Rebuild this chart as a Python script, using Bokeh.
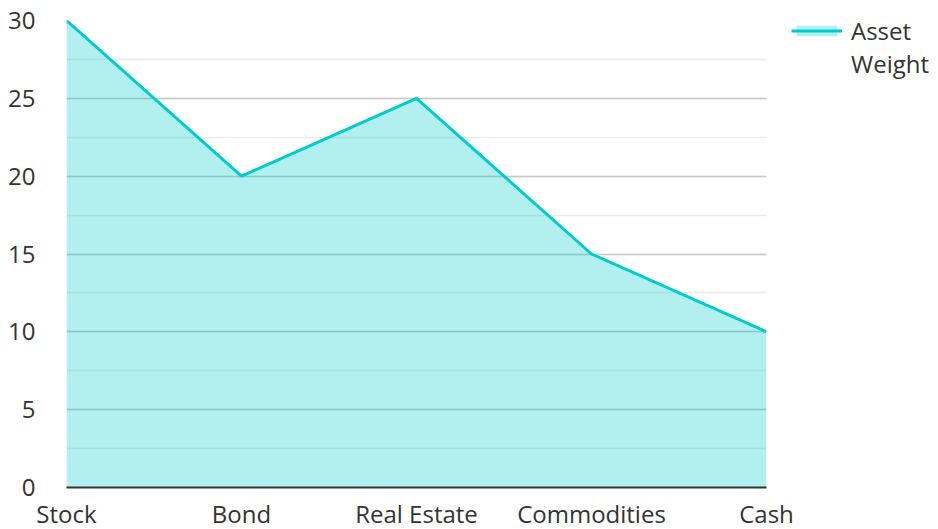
from bokeh.plotting import figure
from bokeh.models import (Range1d, FixedTicker, SingleIntervalTicker, Legend, LegendItem)
from bokeh.embed import file_html
from bokeh.resources import INLINE

categories = ["Stock", "Bond", "Real Estate", "Commodities", "Cash"]
weights = [30, 20, 25, 15, 10]
series_label_lines = ["Asset", "Weight"]

xs = list(range(len(categories)))

p = figure(frame_width=700, frame_height=467, output_backend="svg", toolbar_location=None,
           x_range=Range1d(0, len(categories) - 1), y_range=Range1d(0, 30),
           min_border_left=66, min_border_top=20, min_border_bottom=41, min_border_right=168)
p.outline_line_color = None
p.background_fill_color = "white"

area = p.varea(x=xs, y1=[0] * len(xs), y2=weights, fill_color="#00cccc", fill_alpha=0.3)
line = p.line(x=xs, y=weights, line_color="#00cccc", line_width=3)

p.xaxis.ticker = FixedTicker(ticks=xs)
p.xaxis.major_label_overrides = {i: c for i, c in enumerate(categories)}
p.yaxis.ticker = SingleIntervalTicker(interval=5, num_minor_ticks=2)

for ax in (p.xaxis[0], p.yaxis[0]):
    ax.major_tick_line_color = None
    ax.minor_tick_line_color = None
    ax.major_label_text_font = "Open Sans"
    ax.major_label_text_font_size = "24px"
    ax.major_label_text_color = "#333333"
p.yaxis.axis_line_color = None
p.yaxis.major_label_standoff = 25
p.xaxis.axis_line_color = "#333333"
p.xaxis.axis_line_width = 2
p.xaxis.major_label_standoff = 3

p.xgrid.grid_line_color = None
p.ygrid.grid_line_color = "#c8c8c8"
p.ygrid.grid_line_width = 1.5
p.ygrid.minor_grid_line_color = "#ebebeb"
p.ygrid.minor_grid_line_width = 1.5

legend = Legend(items=[LegendItem(label=series_label_lines[0], renderers=[area, line]),
                       LegendItem(label=series_label_lines[1], renderers=[])],
                location=(25, 407), border_line_color=None, background_fill_alpha=0,
                label_text_font="Open Sans", label_text_font_size="24px",
                label_text_color="#333333", glyph_width=51, glyph_height=13,
                label_height=27, spacing=-6,
                margin=0, padding=0, label_standoff=9)
p.add_layout(legend, "right")

open("out.html", "w").write(file_html(p, INLINE))
